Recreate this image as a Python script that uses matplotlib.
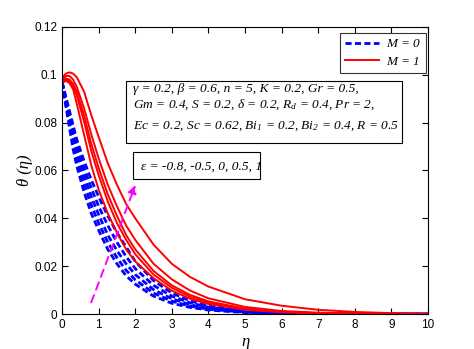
import numpy as np
import matplotlib
matplotlib.use('Agg')
import matplotlib.pyplot as plt
from matplotlib.patches import Rectangle

plt.rcParams['mathtext.fontset'] = 'custom'
plt.rcParams['mathtext.it'] = 'Liberation Serif:italic'
plt.rcParams['mathtext.rm'] = 'Liberation Serif:italic'

# temperature profiles theta(eta), eps = -0.8, -0.5, 0, 0.5, 1
eta = [0, 0.1, 0.2, 0.3, 0.4, 0.6, 0.8, 1.0, 1.25, 1.5, 1.75, 2.0,
       2.5, 3.0, 3.5, 4.0, 5.0, 6.0, 7.0, 8.0, 9.0, 10.0]

# M = 0 (dashed)
theta_M0 = [
    [0.0965, 0.087, 0.078, 0.069, 0.062, 0.051, 0.042, 0.035, 0.027, 0.021, 0.016, 0.0125,
     0.0075, 0.0045, 0.0028, 0.0017, 0.0006, 0.0002, 0.0001, 0, 0, 0],
    [0.0967, 0.088, 0.0805, 0.0725, 0.0655, 0.0545, 0.0455, 0.038, 0.030, 0.0235, 0.0183, 0.0143,
     0.0088, 0.0054, 0.0033, 0.002, 0.0008, 0.0003, 0.0001, 0, 0, 0],
    [0.0968, 0.089, 0.082, 0.0752, 0.0688, 0.058, 0.049, 0.0415, 0.033, 0.0265, 0.021, 0.0165,
     0.0102, 0.0064, 0.0039, 0.0024, 0.0009, 0.0003, 0.0001, 0, 0, 0],
    [0.0969, 0.090, 0.0835, 0.0772, 0.071, 0.061, 0.0525, 0.045, 0.037, 0.030, 0.024, 0.019,
     0.012, 0.0075, 0.0047, 0.0029, 0.0011, 0.0004, 0.0001, 0, 0, 0],
    [0.097, 0.091, 0.085, 0.079, 0.073, 0.064, 0.056, 0.049, 0.041, 0.034, 0.028, 0.022,
     0.014, 0.0088, 0.0055, 0.0034, 0.0013, 0.0005, 0.0002, 0, 0, 0],
]

# M = 1 (solid)
theta_M1 = [
    [0.0965, 0.0975, 0.0965, 0.094, 0.088, 0.075, 0.062, 0.052, 0.042, 0.034, 0.027, 0.022,
     0.015, 0.0098, 0.0064, 0.0042, 0.0018, 0.0008, 0.0003, 0.0001, 0, 0],
    [0.0968, 0.098, 0.0973, 0.0952, 0.0915, 0.0805, 0.068, 0.058, 0.047, 0.038, 0.031, 0.025,
     0.0165, 0.011, 0.0072, 0.0048, 0.002, 0.0009, 0.0004, 0.0001, 0, 0],
    [0.0972, 0.0985, 0.098, 0.0962, 0.093, 0.083, 0.071, 0.061, 0.050, 0.041, 0.033, 0.027,
     0.018, 0.012, 0.008, 0.0053, 0.0023, 0.001, 0.0004, 0.0002, 0, 0],
    [0.0978, 0.0995, 0.0995, 0.098, 0.095, 0.086, 0.075, 0.065, 0.054, 0.045, 0.037, 0.031,
     0.021, 0.0145, 0.0098, 0.0066, 0.003, 0.0013, 0.0006, 0.0003, 0.0001, 0],
    [0.0985, 0.1005, 0.101, 0.1005, 0.099, 0.093, 0.083, 0.074, 0.063, 0.054, 0.046, 0.040,
     0.029, 0.021, 0.0155, 0.0115, 0.0062, 0.0035, 0.0018, 0.0009, 0.0004, 0.0002],
]

arrow_start = (0.77, 0.0038)
arrow_end = (2.03, 0.055)

fig = plt.figure(figsize=(4.74, 3.49), dpi=100)
ax = fig.add_axes([0.131, 0.100, 0.772, 0.823])

for k, th in enumerate(theta_M0):
    ax.plot(eta, th, color='#0000ff', lw=2, ls=(0, (2.2, 1.2)),
            label='$M$ = 0' if k == 0 else None)
for k, th in enumerate(theta_M1):
    ax.plot(eta, th, color='#ff0000', lw=1.4,
            label='$M$ = 1' if k == 0 else None)

ax.annotate('', xy=arrow_end, xytext=arrow_start,
            arrowprops=dict(arrowstyle='-|>', color='#ff00ff', lw=1.4,
                            ls=(0, (4, 3)), mutation_scale=12))

ax.set_xlim(0, 10)
ax.set_ylim(0, 0.12)
ax.set_xticks(range(0, 11))
ax.set_yticks([0, 0.02, 0.04, 0.06, 0.08, 0.1, 0.12])
ax.set_yticklabels(['0', '0.02', '0.04', '0.06', '0.08', '0.1', '0.12'])
ax.tick_params(direction='in', top=True, right=True, length=4, width=0.8,
               labelsize=8.5)
for lab in ax.get_xticklabels() + ax.get_yticklabels():
    lab.set_family('Liberation Sans')

ax.set_xlabel('η', family='Liberation Serif', style='italic', fontsize=12, labelpad=2)
ax.set_ylabel('θ (η)', family='Liberation Serif', style='italic', fontsize=12, labelpad=1)

leg = ax.legend(loc='upper right', bbox_to_anchor=(0.995, 0.98), frameon=True,
                fancybox=False, edgecolor='black', handlelength=2.6, borderaxespad=0,
                prop={'family': 'Liberation Serif', 'style': 'italic', 'size': 9.5},
                borderpad=0.4, labelspacing=0.4, handletextpad=0.5)
leg.get_frame().set_linewidth(0.8)

# parameter box
ax.add_patch(Rectangle((1.75, 0.0716), 7.55, 0.0259, transform=ax.transData,
                       fill=False, ec='black', lw=0.8, zorder=5))
tprops = dict(family='Liberation Serif', style='italic', fontsize=9.6, zorder=6)
ax.text(1.95, 0.0926, 'γ = 0.2, β = 0.6, n = 5, K = 0.2, Gr = 0.5,', **tprops)
ax.text(1.95, 0.0862, 'Gm = 0.4, S = 0.2, δ = 0.2, $R_d$ = 0.4, Pr = 2,', **tprops)
ax.text(1.95, 0.0775, 'Ec = 0.2, Sc = 0.62, $Bi_1$ = 0.2, $Bi_2$ = 0.4, R = 0.5', **tprops)

ax.add_patch(Rectangle((1.95, 0.0566), 3.45, 0.0111, transform=ax.transData,
                       fill=False, ec='black', lw=0.8, zorder=5))
ax.text(2.15, 0.0605, 'ε = -0.8, -0.5, 0, 0.5, 1', **tprops)

fig.savefig('out.png', dpi=100)
